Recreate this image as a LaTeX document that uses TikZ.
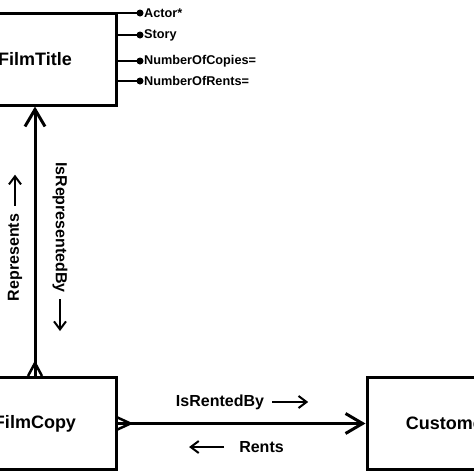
\documentclass[tikz,border=0pt]{standalone}
\usepackage{fontspec}
\setmainfont{Liberation Sans}
\usetikzlibrary{positioning,calc,arrows.meta}

\begin{document}
\begin{tikzpicture}[x=1pt,y=-1pt,
    entity/.style={draw, line width=3pt, minimum width=162pt, minimum height=92pt,
        inner sep=0pt, font=\bfseries\fontsize{18}{20}\selectfont},
    attr/.style={right, inner sep=1pt, font=\bfseries\fontsize{12.7}{14}\selectfont},
    rel/.style={inner sep=0pt, font=\bfseries\fontsize{16}{18}\selectfont},
    link/.style={line width=3pt},
    foot/.style={line width=2.5pt},
    stub/.style={line width=2pt},
    open/.style={-{Straight Barb[length=17pt,width=20pt,line width=3pt]}},
    small/.style={line width=2pt, -{Straight Barb[length=8pt,width=12pt,line width=2pt]}}]

    % Page
    \clip (0,0) rectangle (474,474);

    % Entities
    \node[entity] (title) at (35,59) {FilmTitle};
    \node[entity] (copy) at (35,423.5) {FilmCopy};
    \node[entity] (cust) at (448,423.5) {Customer};

    % Attributes of FilmTitle
    \foreach \y/\name/\txt in {13/actor/Actor*, 35/story/Story,
        61/copies/NumberOfCopies=, 81/rents/NumberOfRents=} {
        \node[attr] (\name) at (143,\y) {\txt};
        \draw[stub] (title.east |- \name.west) -- (140,\y);
        \fill (140,\y) circle[radius=3.5pt];
    }

    % Relationships
    \draw[link, open] (copy.north) -- (title.south);
    \coordinate (footv) at ($(copy.north)+(0,-13)$);
    \draw[foot] (footv) -- ++(-7,13) (footv) -- ++(7,13);

    \draw[link, open] (copy.east) -- (cust.west);
    \coordinate (footh) at ($(copy.east)+(13,0)$);
    \draw[foot] (footh) -- ++(-13,-6) (footh) -- ++(-13,6);

    % Relationship labels
    \node[rel, rotate=90] (represents) at (15,257.5) {Represents};
    \draw[small] ($(represents.east)+(0,-8)$) -- ++(0,-31);
    \node[rel, rotate=-90] (isrepresented) at (60,227.5) {IsRepresentedBy};
    \draw[small] ($(isrepresented.east)+(0,6)$) -- ++(0,32);

    \node[rel] (isrented) at (220,402) {IsRentedBy};
    \draw[small] ($(isrented.east)+(8,0)$) -- ++(36,0);
    \node[rel] (rentsrel) at (261.5,447) {Rents};
    \draw[small] ($(rentsrel.west)+(-15,0)$) -- ++(-35,0);
\end{tikzpicture}
\end{document}
